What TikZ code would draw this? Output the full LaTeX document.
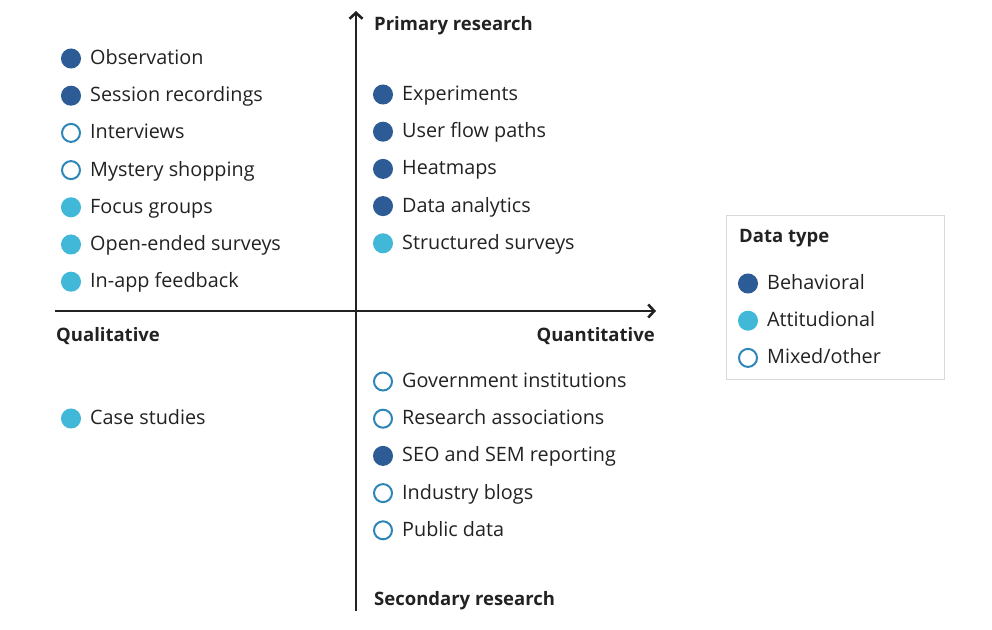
\documentclass[tikz,border=0pt]{standalone}
\usepackage{fontspec}
\setmainfont{Open Sans}
\usetikzlibrary{positioning}
\usetikzlibrary{arrows.meta}
\definecolor{behav}{HTML}{2D5B95}
\definecolor{attit}{HTML}{42B8D8}
\definecolor{mixed}{HTML}{2E86B8}
\definecolor{ink}{HTML}{222222}
\tikzset{
	>={Straight Barb[length=6pt,width=13pt,line width=2.6pt]},
	axis/.style={draw=ink, line width=2.8pt},
	head/.style={
		inner sep=0pt,
		text=ink,
		font=\bfseries\fontsize{18.5}{22}\selectfont},
	dot/.style={
		circle,
		inner sep=0pt,
		minimum size=18pt,
		line width=2pt,
		xshift=-9pt},
	item/.style={
		anchor=west,
		inner sep=0pt,
		text height=16pt,
		text depth=4pt,
		text=ink,
		font=\fontsize{19.8}{22}\selectfont},
	beh/.style={item, label={[dot, draw=behav, fill=behav]left:{}}},
	att/.style={item, label={[dot, draw=attit, fill=attit]left:{}}},
	mix/.style={item, label={[dot, draw=mixed, fill=white]left:{}}},
	nxt/.style={below=16.8pt of #1.south west, anchor=north west},
	legframe/.style={draw=black!15, line width=1pt},
}
\begin{document}
\begin{tikzpicture}[x=1pt, y=-1pt]
	\useasboundingbox (0,0) rectangle (992,629);
	% axes
	\coordinate (top) at (356,11);
	\coordinate (bot) at (356,611);
	\coordinate (lft) at (55,311);
	\coordinate (rgt) at (656,311);
	\draw[axis, ->] (bot) -- (top);
	\draw[axis, ->] (lft) -- (rgt);
	\node[head, anchor=west] (prim) at (374,25.5) {Primary research};
	\node[head, anchor=west] (seco) at (374,600.5) {Secondary research};
	\node[head, anchor=west] (qual) at (56,336.5) {Qualitative};
	\node[head, anchor=east] (quan) at (655,336.5) {Quantitative};
	
	% primary, qualitative
	\node[beh] (obs) at (90,58.5) {Observation};
	\node[beh, nxt=obs] (ses) {Session recordings};
	\node[mix, nxt=ses] (int) {Interviews};
	\node[mix, nxt=int] (mys) {Mystery shopping};
	\node[att, nxt=mys] (foc) {Focus groups};
	\node[att, nxt=foc] (ope) {Open-ended surveys};
	\node[att, nxt=ope] (app) {In-app feedback};
	
	% primary, quantitative
	\node[beh] (exp) at (402,94.5) {Experiments};
	\node[beh, nxt=exp] (flo) {User flow paths};
	\node[beh, nxt=flo] (hea) {Heatmaps};
	\node[beh, nxt=hea] (ana) {Data analytics};
	\node[att, nxt=ana] (str) {Structured surveys};
	
	% secondary
	\node[att] (cas) at (90,418.5) {Case studies};
	\node[mix] (gov) at (402,381.5) {Government institutions};
	\node[mix, nxt=gov] (ass) {Research associations};
	\node[beh, nxt=ass] (seo) {SEO and SEM reporting};
	\node[mix, nxt=seo] (blo) {Industry blogs};
	\node[mix, nxt=blo] (pub) {Public data};
	
	% legend
	\draw[legframe] (726,215) rectangle (944,379);
	\node[head, anchor=west] (leg) at (739,238) {Data type};
	\node[beh] (lbeh) at (767,283.5) {Behavioral};
	\node[att, nxt=lbeh] (latt) {Attitudional};
	\node[mix, nxt=latt] (lmix) {Mixed/other};
\end{tikzpicture}
\end{document}
